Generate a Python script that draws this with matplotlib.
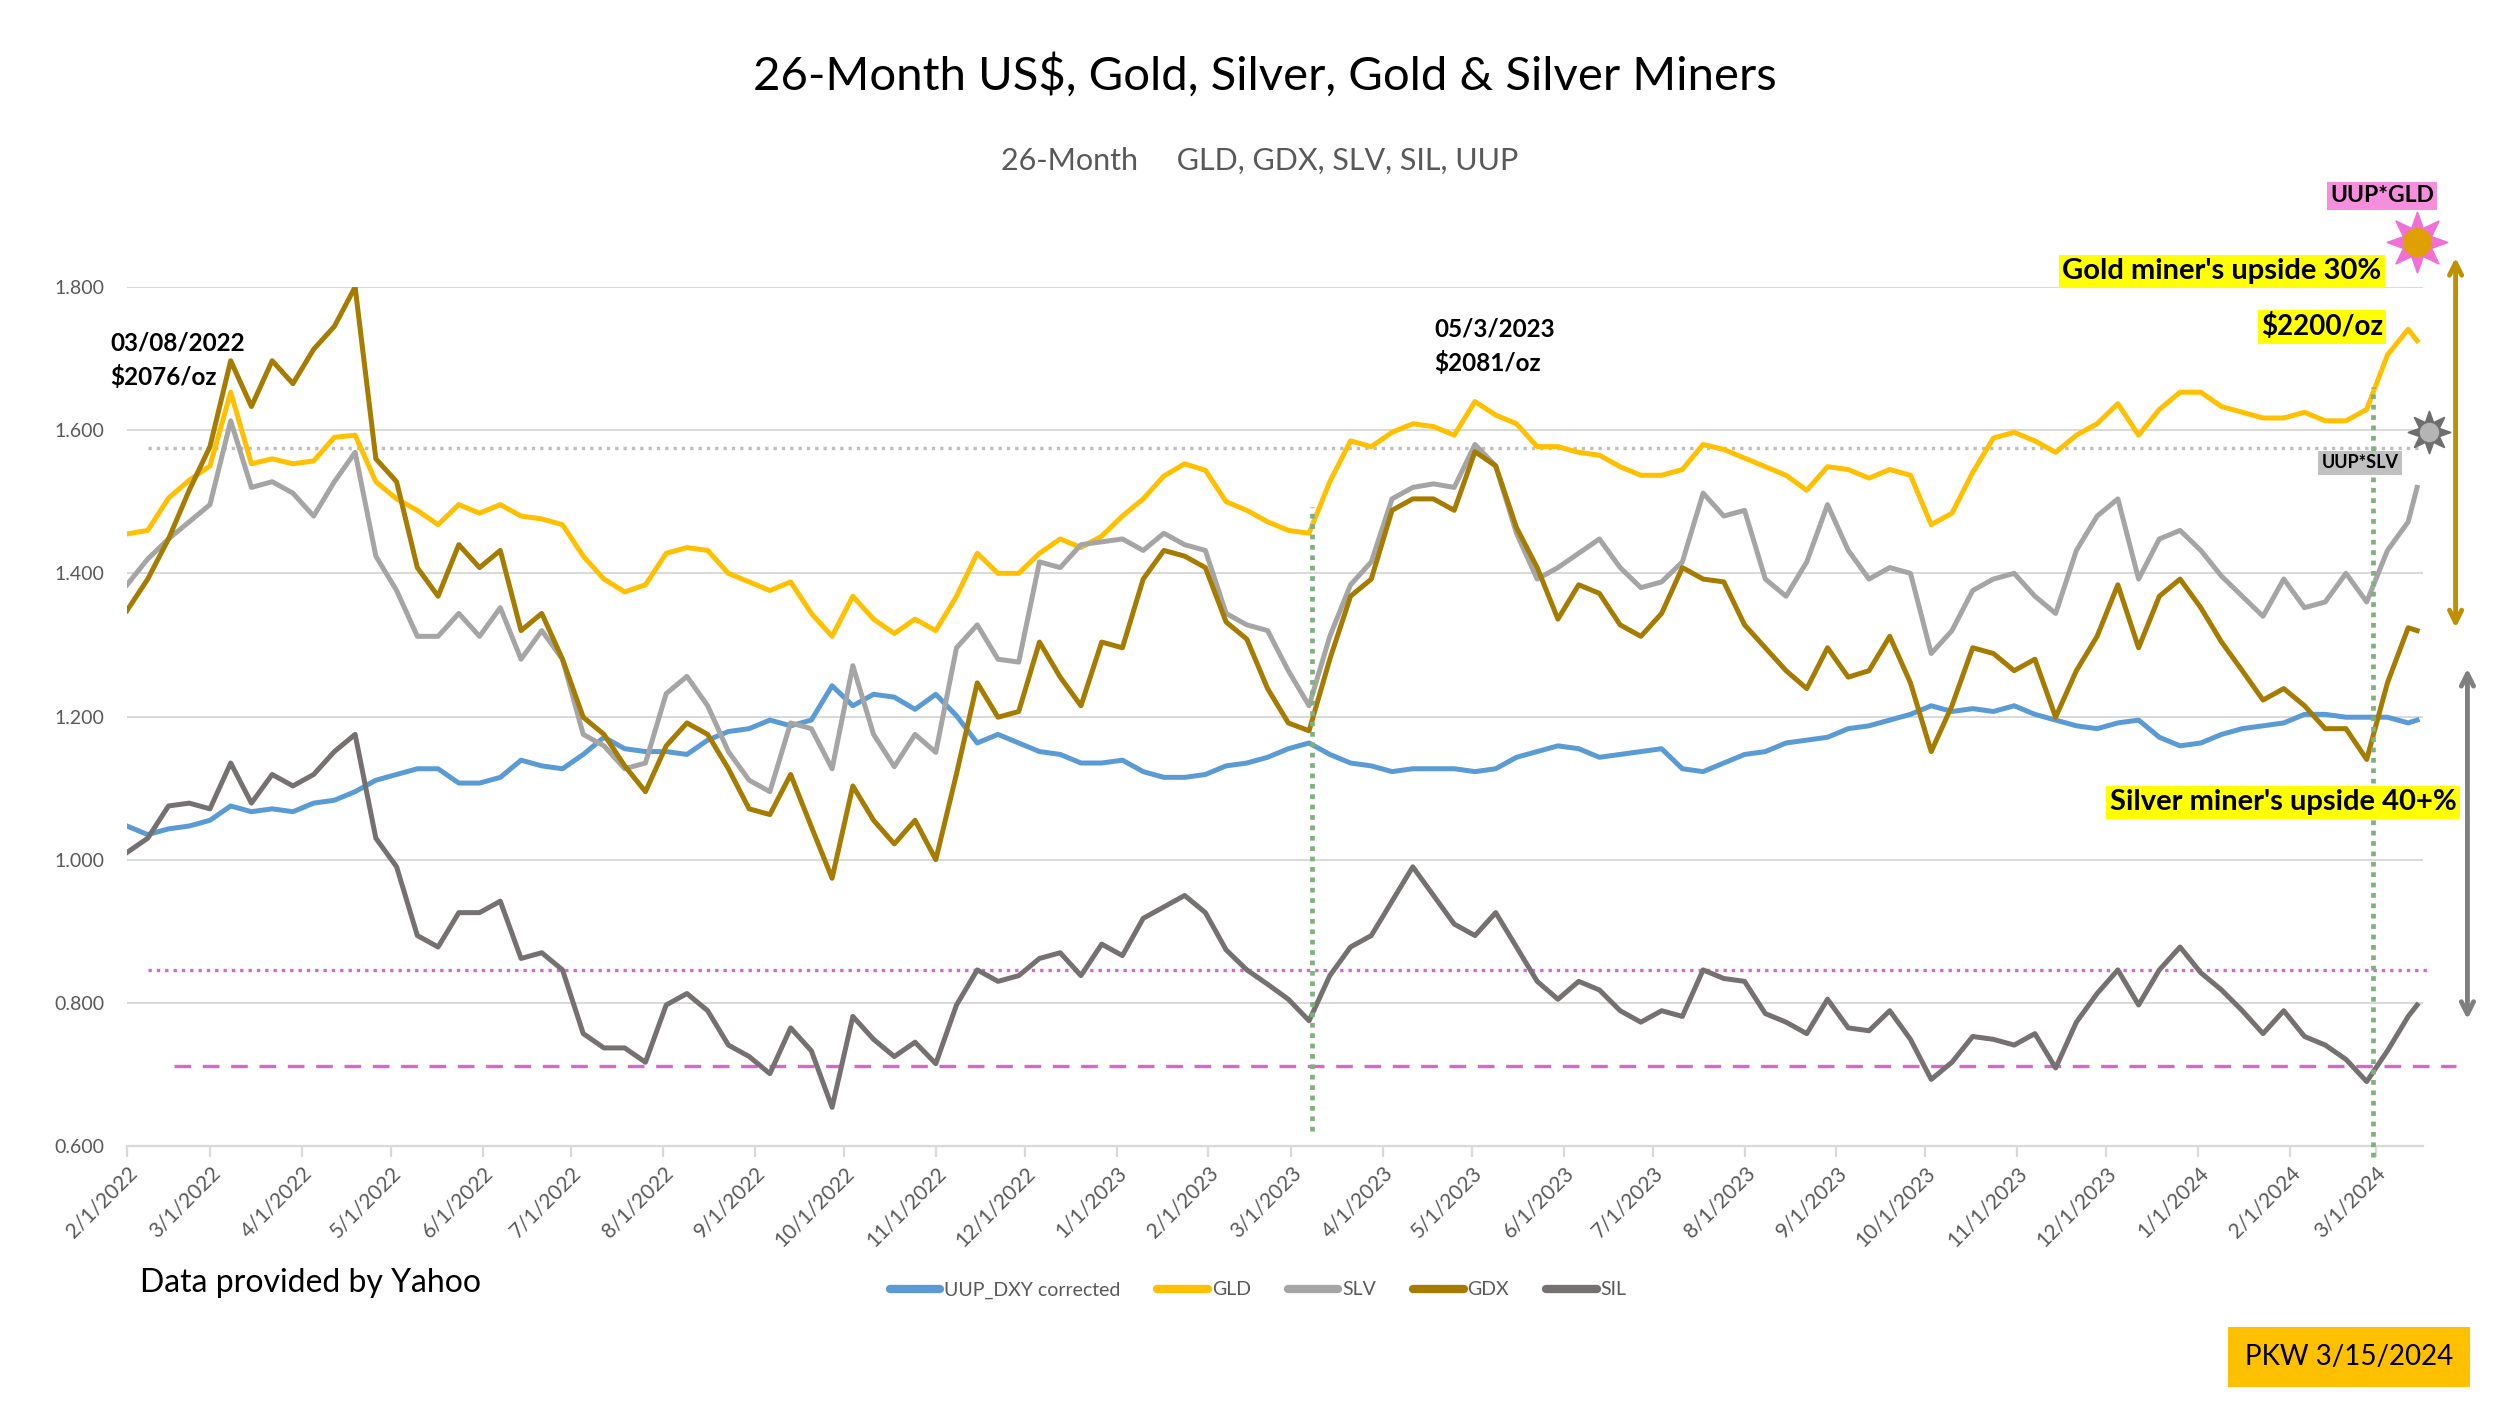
import matplotlib
matplotlib.use("Agg")
import matplotlib.pyplot as plt
import matplotlib.dates as mdates
from matplotlib.lines import Line2D
import pandas as pd

####################################
# Data (weekly)
####################################

# weekly sample dates (Tuesdays) + last close
dates = list(pd.date_range("2022-02-01", periods=111, freq="7D")) + [pd.Timestamp("2024-03-15")]

uup = [1.047, 1.035, 1.043, 1.047, 1.055, 1.075, 1.067, 1.071, 1.067, 1.079,
       1.083, 1.095, 1.111, 1.119, 1.127, 1.127, 1.107, 1.107, 1.115, 1.139,
       1.131, 1.127, 1.147, 1.171, 1.155, 1.151, 1.151, 1.147, 1.167, 1.179,
       1.183, 1.195, 1.187, 1.195, 1.243, 1.215, 1.231, 1.227,
       1.210, 1.231, 1.201, 1.163, 1.175, 1.163, 1.151, 1.147, 1.135, 1.135,
       1.139, 1.123, 1.115, 1.115, 1.119, 1.131, 1.135, 1.143, 1.155, 1.163,
       1.147, 1.135, 1.131, 1.123, 1.127, 1.127, 1.127, 1.123, 1.127, 1.143,
       1.151, 1.159, 1.155, 1.143, 1.147, 1.151,
       1.155, 1.127, 1.123, 1.135, 1.147, 1.151, 1.163, 1.167, 1.171, 1.183,
       1.187, 1.195, 1.203, 1.215, 1.207, 1.211, 1.207, 1.215, 1.203, 1.195,
       1.187, 1.183, 1.191, 1.195, 1.171, 1.159, 1.163, 1.175, 1.183, 1.187,
       1.191, 1.203, 1.203, 1.199, 1.199, 1.199, 1.191, 1.195]

gld = [1.455, 1.460, 1.505, 1.530, 1.550, 1.653, 1.553, 1.560, 1.553, 1.557,
       1.590, 1.593, 1.528, 1.504, 1.488, 1.468, 1.496, 1.484, 1.496, 1.480,
       1.476, 1.468, 1.424, 1.392, 1.374, 1.384, 1.428, 1.436, 1.432, 1.400,
       1.388, 1.376, 1.388, 1.344, 1.312, 1.368, 1.336, 1.316,
       1.336, 1.320, 1.368, 1.428, 1.400, 1.400, 1.428, 1.448, 1.436, 1.452,
       1.480, 1.504, 1.536, 1.553, 1.544, 1.500, 1.488, 1.472, 1.460, 1.456,
       1.528, 1.585, 1.577, 1.597, 1.609, 1.605, 1.593, 1.640, 1.621, 1.609,
       1.577, 1.577, 1.569, 1.565, 1.549, 1.537,
       1.537, 1.545, 1.580, 1.573, 1.561, 1.549, 1.537, 1.516, 1.549, 1.545,
       1.533, 1.545, 1.537, 1.468, 1.484, 1.541, 1.589, 1.597, 1.585, 1.569,
       1.593, 1.609, 1.637, 1.593, 1.629, 1.653, 1.653, 1.633, 1.625, 1.617,
       1.617, 1.625, 1.613, 1.613, 1.629, 1.705, 1.741, 1.725]

slv = [1.384, 1.420, 1.448, 1.472, 1.496, 1.613, 1.520, 1.528, 1.512, 1.480,
       1.528, 1.569, 1.424, 1.376, 1.312, 1.312, 1.344, 1.312, 1.352, 1.280,
       1.320, 1.280, 1.175, 1.159, 1.127, 1.135, 1.232, 1.256, 1.215, 1.151,
       1.111, 1.095, 1.191, 1.183, 1.127, 1.271, 1.175, 1.130,
       1.175, 1.150, 1.296, 1.328, 1.280, 1.276, 1.416, 1.408, 1.440, 1.444,
       1.448, 1.432, 1.456, 1.440, 1.432, 1.344, 1.328, 1.320, 1.264, 1.215,
       1.312, 1.384, 1.416, 1.504, 1.520, 1.525, 1.520, 1.580, 1.550, 1.456,
       1.392, 1.408, 1.428, 1.448, 1.408, 1.380,
       1.388, 1.416, 1.512, 1.480, 1.488, 1.392, 1.368, 1.416, 1.496, 1.432,
       1.392, 1.408, 1.400, 1.288, 1.320, 1.376, 1.392, 1.400, 1.368, 1.344,
       1.432, 1.480, 1.504, 1.392, 1.448, 1.460, 1.432, 1.396, 1.368, 1.340,
       1.392, 1.352, 1.360, 1.400, 1.360, 1.432, 1.472, 1.520]

gdx = [1.348, 1.392, 1.448, 1.516, 1.577, 1.697, 1.633, 1.697, 1.665, 1.713,
       1.745, 1.800, 1.560, 1.528, 1.408, 1.368, 1.440, 1.408, 1.432, 1.320,
       1.344, 1.280, 1.199, 1.175, 1.131, 1.095, 1.159, 1.191, 1.175, 1.127,
       1.071, 1.063, 1.119, 1.046, 0.974, 1.103, 1.055, 1.022,
       1.055, 1.000, 1.120, 1.247, 1.199, 1.207, 1.304, 1.255, 1.215, 1.304,
       1.296, 1.392, 1.432, 1.424, 1.408, 1.332, 1.308, 1.239, 1.191, 1.180,
       1.280, 1.368, 1.392, 1.488, 1.504, 1.504, 1.488, 1.570, 1.550, 1.464,
       1.408, 1.336, 1.384, 1.372, 1.328, 1.312,
       1.344, 1.408, 1.392, 1.388, 1.328, 1.296, 1.264, 1.239, 1.296, 1.255,
       1.264, 1.312, 1.247, 1.151, 1.215, 1.296, 1.288, 1.264, 1.280, 1.199,
       1.264, 1.312, 1.384, 1.296, 1.368, 1.392, 1.352, 1.304, 1.264, 1.223,
       1.239, 1.215, 1.183, 1.183, 1.140, 1.247, 1.324, 1.320]

sil = [1.010, 1.030, 1.075, 1.079, 1.071, 1.135, 1.079, 1.119, 1.103, 1.119,
       1.151, 1.175, 1.030, 0.990, 0.894, 0.878, 0.926, 0.926, 0.942, 0.862,
       0.870, 0.846, 0.757, 0.737, 0.737, 0.717, 0.797, 0.813, 0.789, 0.741,
       0.725, 0.701, 0.765, 0.733, 0.654, 0.781, 0.749, 0.725,
       0.745, 0.715, 0.797, 0.846, 0.830, 0.838, 0.862, 0.870, 0.838, 0.882,
       0.866, 0.918, 0.934, 0.950, 0.926, 0.874, 0.846, 0.826, 0.805, 0.775,
       0.838, 0.878, 0.894, 0.942, 0.990, 0.950, 0.910, 0.894, 0.926, 0.878,
       0.830, 0.805, 0.830, 0.818, 0.789, 0.773,
       0.789, 0.781, 0.846, 0.834, 0.830, 0.785, 0.773, 0.757, 0.805, 0.765,
       0.761, 0.789, 0.749, 0.693, 0.717, 0.753, 0.749, 0.741, 0.757, 0.709,
       0.773, 0.813, 0.846, 0.797, 0.846, 0.878, 0.842, 0.818, 0.789, 0.757,
       0.789, 0.753, 0.741, 0.721, 0.690, 0.733, 0.781, 0.797]

series_names = ["UUP_DXY corrected", "GLD", "SLV", "GDX", "SIL"]
series_colors = ["#5b9bd5", "#ffc000", "#a5a5a5", "#a67c00", "#767171"]

# reference levels
GLD_LEVEL = 1.575      # grey dotted
SIL_LEVEL_HI = 0.846   # pink dotted
SIL_LEVEL_LO = 0.712   # pink dashed
MARK_DATES = ["2023-03-08", "2024-02-29"]
MARK_TOPS = [1.492, 1.661]
MARK_BOTTOMS = [0.621, 0.585]

####################################
# Figure
####################################

plt.rcParams['font.family'] = ['Lato', 'DejaVu Sans']
W, H = 2500, 1406

def fx(x):
    return x / W

def fy(y):
    return 1 - y / H

fig = plt.figure(figsize=(25, 14.06), dpi=100)
ax = fig.add_axes([fx(127), fy(1146), fx(2423) - fx(127), fy(287) - fy(1146)])

for vals, name, col in zip([uup, gld, slv, gdx, sil], series_names, series_colors):
    ax.plot(dates, vals, color=col, lw=3.6, label=name, solid_joinstyle='round', zorder=3)

x0 = pd.Timestamp("2022-02-01")
x1 = pd.Timestamp("2024-03-17")
ax.set_xlim(x0, x1)
ax.set_ylim(0.6, 1.8)

# reference lines
ax.plot([pd.Timestamp("2022-02-08"), x1], [GLD_LEVEL] * 2, color="#bfbfbf", lw=2.4, ls=(0, (1, 1.5)), zorder=2)
ax.plot([pd.Timestamp("2022-02-08"), pd.Timestamp("2024-03-19")], [SIL_LEVEL_HI] * 2,
        color="#d966c8", lw=2.4, ls=(0, (1, 1.5)), zorder=2, clip_on=False)
ax.plot([pd.Timestamp("2022-02-17"), pd.Timestamp("2024-03-28")], [SIL_LEVEL_LO] * 2,
        color="#d966c8", lw=2.4, ls=(0, (5, 3.5)), zorder=2, clip_on=False)
for d, top, bot in zip(MARK_DATES, MARK_TOPS, MARK_BOTTOMS):
    ax.plot([pd.Timestamp(d)] * 2, [bot, top], color="#80b080", lw=3.4, ls=(0, (1, 1.2)),
            zorder=4, clip_on=False)

# axes styling
ax.grid(axis='y', color="#d9d9d9", lw=1.4)
ax.set_axisbelow(True)
for s in ["top", "right", "left"]:
    ax.spines[s].set_visible(False)
ax.spines["bottom"].set_color("#d9d9d9")
ax.spines["bottom"].set_linewidth(1.6)
ax.yaxis.set_major_locator(plt.MultipleLocator(0.2))
ax.yaxis.set_major_formatter(plt.FuncFormatter(lambda v, p: f"{v:.3f}"))
ax.tick_params(axis='y', length=0, labelsize=14, labelcolor="#595959", pad=16)
ax.xaxis.set_major_locator(mdates.MonthLocator())
ax.xaxis.set_major_formatter(plt.FuncFormatter(
    lambda v, p: "{d.month}/{d.day}/{d.year}".format(d=mdates.num2date(v))))
ax.tick_params(axis='x', length=8, width=1.6, color="#d9d9d9", labelsize=15,
               labelcolor="#595959", pad=4)
for lab in ax.get_xticklabels():
    lab.set_rotation(45)
    lab.set_ha('right')
    lab.set_rotation_mode('anchor')

# stars on the right edge
ax.plot([pd.Timestamp("2024-03-15")], [1.863], marker=(8, 1, 0), ms=44, color="#f070d8",
        mec="#f070d8", clip_on=False, zorder=5)
ax.plot([pd.Timestamp("2024-03-15")], [1.863], marker='o', ms=20, color="#e0a000",
        mec="#e0a000", clip_on=False, zorder=6)
ax.plot([pd.Timestamp("2024-03-19")], [1.597], marker=(8, 1, 0), ms=31, color="#6e6e6e",
        clip_on=False, zorder=5)
ax.plot([pd.Timestamp("2024-03-19")], [1.597], marker='o', ms=13, color="#b4b4b4",
        mec="#b4b4b4", clip_on=False, zorder=6)

# upside arrows
ax.annotate("", xy=(pd.Timestamp("2024-03-28"), 1.845), xytext=(pd.Timestamp("2024-03-28"), 1.32),
            arrowprops=dict(arrowstyle='<->', color="#bf9000", lw=3.5, mutation_scale=22),
            annotation_clip=False)
ax.annotate("", xy=(pd.Timestamp("2024-04-01"), 1.271), xytext=(pd.Timestamp("2024-04-01"), 0.773),
            arrowprops=dict(arrowstyle='<->', color="#7f7f7f", lw=3.5, mutation_scale=22),
            annotation_clip=False)

# titles
fig.text(fx(1265), fy(75), "26-Month US$, Gold, Silver, Gold & Silver Miners",
         ha='center', va='center', fontsize=34, color="black")
fig.text(fx(1260), fy(161), "26-Month     GLD, GDX, SLV, SIL, UUP",
         ha='center', va='center', fontsize=22, color="#595959")

# annotations
bold = dict(fontweight='bold', color='black')
fig.text(fx(110), fy(343), "03/08/2022", ha='left', va='center', fontsize=17.5, **bold)
fig.text(fx(110), fy(377), "$2076/oz", ha='left', va='center', fontsize=17.5, **bold)
fig.text(fx(1434), fy(329), "05/3/2023", ha='left', va='center', fontsize=17.5, **bold)
fig.text(fx(1434), fy(363), "$2081/oz", ha='left', va='center', fontsize=17.5, **bold)

fig.text(fx(2382), fy(196), "UUP*GLD", ha='center', va='center', fontsize=16.5, **bold,
         bbox=dict(boxstyle='square,pad=0.15', fc="#f58fdd", ec='none'))
fig.text(fx(2222), fy(271), "Gold miner's upside 30%", ha='center', va='center', fontsize=21, **bold,
         bbox=dict(boxstyle='square,pad=0.12', fc="#ffff00", ec='none'))
fig.text(fx(2322), fy(327), "$2200/oz", ha='center', va='center', fontsize=20, **bold,
         bbox=dict(boxstyle='square,pad=0.12', fc="#ffff00", ec='none'))
fig.text(fx(2360), fy(463), "UUP*SLV", ha='center', va='center', fontsize=13, **bold,
         bbox=dict(boxstyle='square,pad=0.2', fc="#c0c0c0", ec='none'))
fig.text(fx(2283), fy(802), "Silver miner's upside 40+%", ha='center', va='center', fontsize=21, **bold,
         bbox=dict(boxstyle='square,pad=0.12', fc="#ffff00", ec='none'))

fig.text(fx(140), fy(1283), "Data provided by Yahoo", ha='left', va='center', fontsize=23, color='black')
fig.text(fx(2349), fy(1357), "PKW 3/15/2024", ha='center', va='center', fontsize=20, color='black',
         bbox=dict(boxstyle='square,pad=0.6', fc="#ffc000", ec='none'))

# legend
handles = [Line2D([], [], color=c, lw=6, solid_capstyle='round') for c in series_colors]
fig.legend(handles, series_names, loc='center', bbox_to_anchor=(fx(1258), fy(1290)), ncol=5,
           frameon=False, fontsize=14, labelcolor="#595959", handlelength=2.6,
           handletextpad=0.2, columnspacing=1.9)

fig.savefig("out.png", dpi=100)
